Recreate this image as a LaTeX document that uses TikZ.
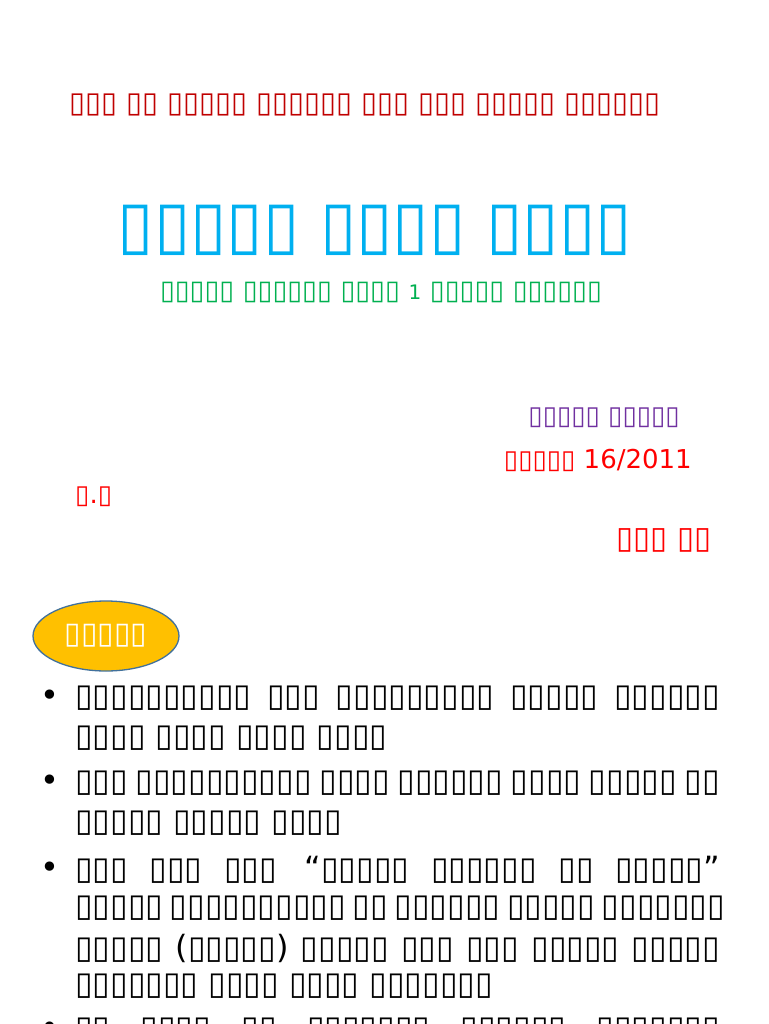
\documentclass[tikz,border=0pt]{standalone}
\usepackage{fontspec}
\setmainfont{DejaVu Sans}
\usetikzlibrary{shapes.geometric}
\definecolor{dred}{HTML}{C00000}
\definecolor{sky}{HTML}{00B0F0}
\definecolor{grn}{HTML}{00B050}
\definecolor{purp}{HTML}{7030A0}
\definecolor{gold}{HTML}{FFC000}
\definecolor{edge}{HTML}{41719C}
\newcommand{\tf}[1]{\foreach \i in {1,...,#1}{▯}}
\newcommand{\jl}[1]{\makebox[645pt][s]{#1}}
\begin{document}
\begin{tikzpicture}[x=1pt,y=-1pt,inner sep=0pt,
  t/.style={font=\fontsize{26}{30}\selectfont},
  b/.style={font=\fontsize{32}{38}\selectfont,anchor=west}]
\useasboundingbox[fill=white] (0,0) rectangle (768,1024);
\node[text=dred,font=\fontsize{29}{34}\selectfont] (l1) at (365,105) {\tf3 \tf2 \tf5 \tf6 \tf3 \tf3 \tf5 \tf6};
\node[text=sky,font=\fontsize{66}{76}\selectfont] (l2) at (375,230) {\tf5 \tf4 \tf4};
\node[text=grn,font=\fontsize{27}{32}\selectfont] (l3) at (381,292) {\tf5 \tf6 \tf4 {\fontsize{20}{24}\selectfont 1} \tf5 \tf6};
\node[t,text=purp,anchor=east] (l4) at (680,418) {\tf5 \tf5};
\node[t,text=red,anchor=east] (l5) at (692,460) {\tf5 16/2011};
\node[t,text=red,anchor=west] (l6) at (75,497) {▯.▯};
\node[text=red,anchor=east,font=\fontsize{31}{36}\selectfont] (l7) at (712,540) {\tf3 \tf2};
\node[ellipse,draw=edge,line width=1.3pt,fill=gold,minimum width=146pt,minimum height=70pt,
  text=white,font=\fontsize{30}{34}\selectfont] (ov) at (106,636) {\tf5};
\foreach \y in {698,783,870} \node[b,anchor=center] at (50,\y) {•};
\node[b] (a1) at (75,698) {\jl{\tf{10} \tf3 \tf9 \tf5 \tf6}};
\node[b] (a2) at (75,738) {\tf4 \tf4 \tf4 \tf4};
\node[b] (a3) at (75,783) {\jl{\tf3 \tf{10} \tf4 \tf6 \tf4 \tf5 \tf2}};
\node[b] (a4) at (75,823) {\tf5 \tf5 \tf4};
\node[b] (a5) at (75,870) {\jl{\tf3 \tf3 \tf3 \hspace{6pt}“\tf5 \tf6 \tf2 \tf5”}};
\node[b] (a6) at (75,908) {\jl{\tf5 \tf{10} \tf2 \tf6 \tf5 \tf7}};
\node[b] (a7) at (75,948) {\jl{\tf5 (\tf5) \tf5 \tf3 \tf3 \tf5 \tf5}};
\node[b] (a8) at (75,986) {\tf7 \tf4 \tf4 \tf7};
\node[b,anchor=center] at (50,1030) {•};
\node[b] (a9) at (75,1030) {\jl{\tf2 \tf4 \tf2 \tf7 \tf6 \tf7}};
\end{tikzpicture}
\end{document}
